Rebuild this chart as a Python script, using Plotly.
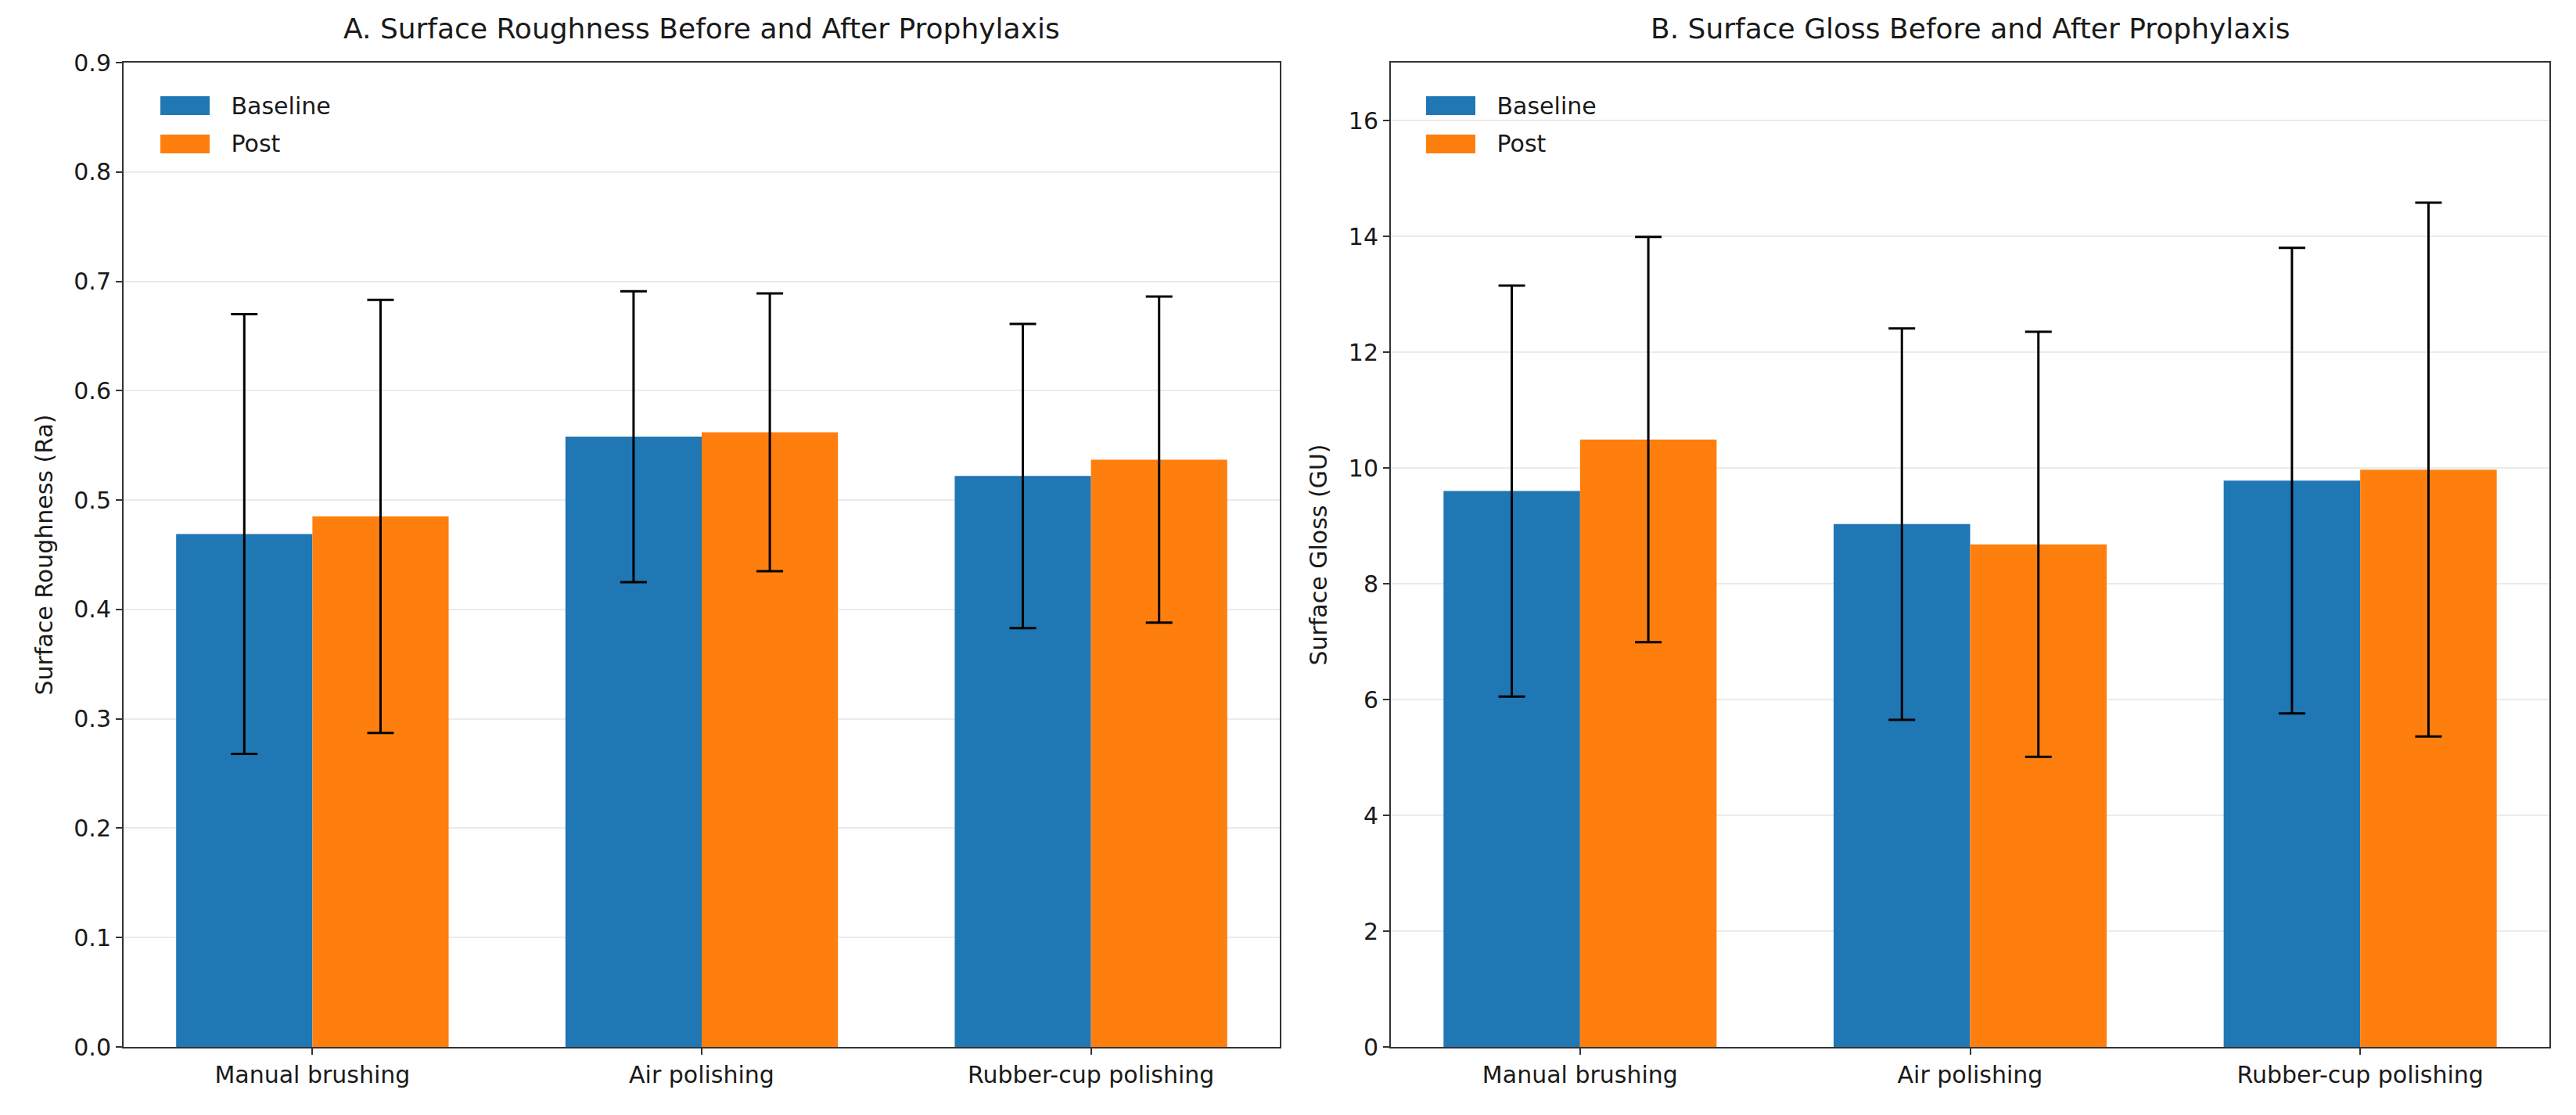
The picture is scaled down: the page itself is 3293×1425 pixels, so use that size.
import plotly.graph_objects as go

# ---------------- data ----------------
categories = ["Manual brushing", "Air polishing", "Rubber-cup polishing"]
series_names = ["Baseline", "Post"]

ra_baseline = [0.469, 0.558, 0.522]
ra_baseline_sd = [0.201, 0.133, 0.139]
ra_post = [0.485, 0.562, 0.537]
ra_post_sd = [0.198, 0.127, 0.149]

gu_baseline = [9.60, 9.03, 9.78]
gu_baseline_sd = [3.55, 3.38, 4.02]
gu_post = [10.49, 8.68, 9.97]
gu_post_sd = [3.50, 3.67, 4.61]

panel_titles = ["A. Surface Roughness Before and After Prophylaxis",
                "B. Surface Gloss Before and After Prophylaxis"]
y_titles = ["Surface Roughness (Ra)", "Surface Gloss (GU)"]

# ---------------- style ----------------
colors = ["#1f77b4", "#ff7f0e"]
FONT = "DejaVu Sans"
TXT = "#1a1a1a"
W, H = 3293, 1425
ML, MR, MT, MB = 158, 34, 80, 87
PW = W - ML - MR
PH = H - MT - MB


def px_x(x):
    return (x - ML) / PW


def px_y(y):
    return (H - MB - y) / PH


fig = go.Figure()

panels = [
    ("x", "y", "legend", [ra_baseline, ra_post], [ra_baseline_sd, ra_post_sd]),
    ("x2", "y2", "legend2", [gu_baseline, gu_post], [gu_baseline_sd, gu_post_sd]),
]
for xa, ya, lg, vals, sds in panels:
    for i, name in enumerate(series_names):
        fig.add_trace(go.Bar(
            x=categories, y=vals[i], name=name,
            marker=dict(color=colors[i], line=dict(width=0)),
            error_y=dict(type="data", array=sds[i], visible=True,
                         color="black", thickness=3, width=17),
            xaxis=xa, yaxis=ya, legend=lg, legendgroup=lg + name,
        ))

axis_common = dict(
    showline=True, linecolor="#333333", linewidth=2, mirror=True,
    ticks="outside", ticklen=8, tickwidth=2, tickcolor="#333333",
    tickfont=dict(family=FONT, size=30, color=TXT),
    zeroline=False, automargin=False,
)
xcommon = dict(axis_common, showgrid=False, range=[-0.485, 2.485],
               type="category")
ycommon = dict(axis_common, showgrid=True, gridcolor="#ebebeb", gridwidth=2)

left_dom = [0, px_x(1636)]
right_dom = [px_x(1778), 1]

legend_style = dict(xanchor="left", yanchor="top",
                    bgcolor="rgba(255,255,255,0)", borderwidth=0,
                    font=dict(family=FONT, size=30, color=TXT),
                    tracegroupgap=6, itemwidth=100)

fig.update_layout(
    width=W, height=H,
    margin=dict(l=ML, r=MR, t=MT, b=MB, autoexpand=False),
    paper_bgcolor="white", plot_bgcolor="white",
    barmode="group", bargap=0.3, bargroupgap=0,
    font=dict(family=FONT, size=30, color=TXT),
    showlegend=True,
    xaxis=dict(xcommon, domain=left_dom, anchor="y"),
    yaxis=dict(ycommon, domain=[0, 1], anchor="x", range=[0, 0.9],
               dtick=0.1, tick0=0, tickformat=".1f",
               title=dict(text=y_titles[0], font=dict(family=FONT, size=30, color=TXT),
                          standoff=18)),
    xaxis2=dict(xcommon, domain=right_dom, anchor="y2"),
    yaxis2=dict(ycommon, domain=[0, 1], anchor="x2", range=[0, 17],
                dtick=2, tick0=0,
                title=dict(text=y_titles[1], font=dict(family=FONT, size=30, color=TXT),
                           standoff=18)),
    legend=dict(legend_style, x=px_x(185.5), y=px_y(108)),
    legend2=dict(legend_style, x=px_x(1803.5), y=px_y(108)),
)

# wider matplotlib-style legend patches behind the native legend symbols
for left, right in [(205, 268), (1823, 1886)]:
    for (top, bottom), col in zip([(123, 147), (172, 196)], colors):
        fig.add_shape(type="rect", xref="paper", yref="paper",
                      x0=px_x(left), x1=px_x(right), y0=px_y(bottom), y1=px_y(top),
                      fillcolor=col, line=dict(width=0), layer="above")

title_y = px_y(37)
for t, cx in zip(panel_titles, [(158 + 1636) / 2, (1778 + 3259) / 2]):
    fig.add_annotation(text=t, xref="paper", yref="paper", x=px_x(cx), y=title_y,
                       xanchor="center", yanchor="middle", showarrow=False,
                       font=dict(family=FONT, size=36, color=TXT))

fig.write_html("out.html")
